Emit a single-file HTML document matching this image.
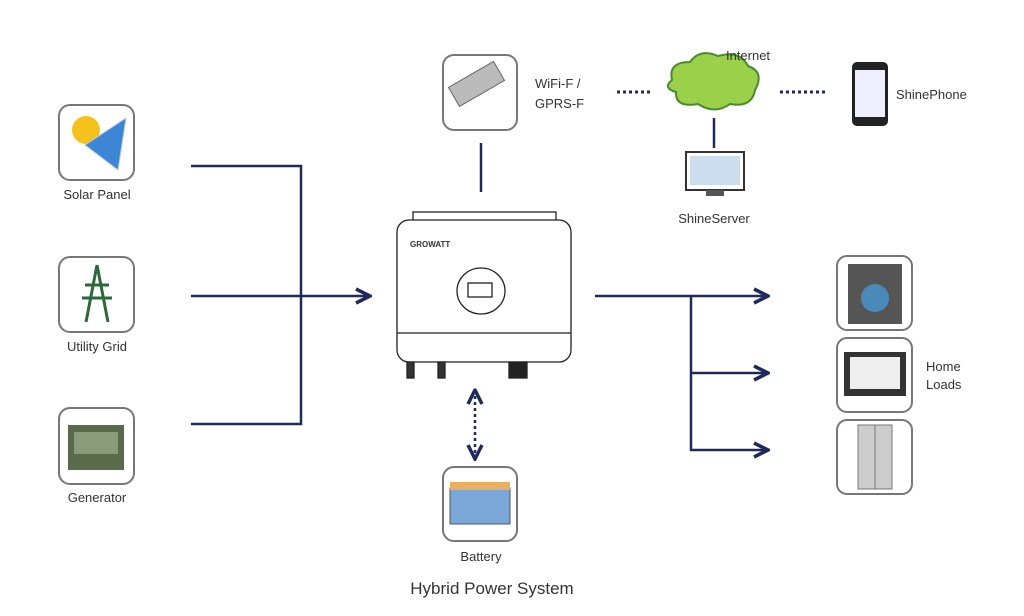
<!DOCTYPE html>
<html><head><meta charset="utf-8"><style>body{margin:0;background:#fff}svg{display:block}text{font-family:"Liberation Sans",sans-serif;fill:#333}</style></head><body>
<svg width="1024" height="616" viewBox="0 0 1024 616" xmlns="http://www.w3.org/2000/svg">
<defs><marker id="a" viewBox="0 0 10 10" refX="9" refY="5" markerWidth="7" markerHeight="7" orient="auto-start-reverse"><path d="M1 1L9 5L1 9" fill="none" stroke="#1f2a5a" stroke-width="2"/></marker></defs>
<g fill="#fff" stroke="#777" stroke-width="2">
<rect x="59" y="105" width="75" height="75" rx="11"/>
<rect x="59" y="257" width="75" height="75" rx="11"/>
<rect x="59" y="408" width="75" height="76" rx="11"/>
<rect x="443" y="55" width="74" height="75" rx="11"/>
<rect x="443" y="467" width="74" height="74" rx="11"/>
<rect x="837" y="256" width="75" height="74" rx="10"/>
<rect x="837" y="338" width="75" height="74" rx="10"/>
<rect x="837" y="420" width="75" height="74" rx="10"/>
</g>
<!-- icons -->
<circle cx="86" cy="130" r="14" fill="#f5c21b"/>
<polygon points="85,145 126,118 118,170" fill="#3d86d6" stroke="#bcd" />
<path d="M97 265 L86 322 M97 265 L108 322 M85 285 H109 M82 298 H112" stroke="#2a6a3a" stroke-width="3" fill="none"/>
<rect x="68" y="425" width="56" height="45" fill="#5a6a4a"/><rect x="74" y="432" width="44" height="22" fill="#8a9a7a"/>
<rect x="454" y="72" width="52" height="22" transform="rotate(-30 480 90)" fill="#bbb" stroke="#666"/>
<rect x="450" y="488" width="60" height="36" fill="#7aa7d8" stroke="#555"/><rect x="450" y="482" width="60" height="8" fill="#e8b060"/>
<rect x="848" y="264" width="54" height="60" fill="#555"/><circle cx="875" cy="298" r="14" fill="#4a8ab8"/>
<rect x="844" y="352" width="62" height="44" fill="#333"/><rect x="850" y="357" width="50" height="32" fill="#eee"/>
<rect x="858" y="425" width="34" height="64" fill="#ccc" stroke="#777"/><line x1="875" y1="425" x2="875" y2="489" stroke="#777"/>
<rect x="852" y="62" width="36" height="64" rx="5" fill="#222"/><rect x="855" y="70" width="30" height="47" fill="#eef"/>
<path d="M672 80 Q668 62 690 62 Q700 48 718 56 Q740 50 748 66 Q765 72 755 90 Q752 108 730 104 Q715 115 698 104 Q675 108 676 92 Q662 88 672 80Z" fill="#9ad04a" stroke="#4a8a2a" stroke-width="2"/>
<rect x="686" y="152" width="58" height="38" fill="#fff" stroke="#333" stroke-width="2"/><rect x="690" y="156" width="50" height="29" fill="#cde"/><rect x="706" y="190" width="18" height="6" fill="#555"/>
<!-- inverter -->
<g fill="#fff" stroke="#222" stroke-width="1.3">
<rect x="413" y="212" width="143" height="10"/>
<rect x="397" y="220" width="174" height="142" rx="12"/>
<line x1="397" y1="333" x2="571" y2="333"/>
<ellipse cx="481" cy="291" rx="24" ry="23"/>
<rect x="468" y="283" width="24" height="14"/>
<rect x="407" y="362" width="7" height="16" fill="#333"/><rect x="438" y="362" width="7" height="16" fill="#333"/>
<rect x="509" y="362" width="18" height="16" fill="#222"/>
</g>
<text x="410" y="247" font-size="8" font-weight="bold" fill="#555">GROWATT</text>
<!-- connectors -->
<g stroke="#1f2a5a" stroke-width="2.5" fill="none">
<path d="M191 166H301V424H191"/><path d="M191 296H370" marker-end="url(#a)"/>
<path d="M595 296H768" marker-end="url(#a)"/>
<path d="M691 296V450H768" marker-end="url(#a)"/><path d="M691 373H768" marker-end="url(#a)"/>
<path d="M481 143V192"/><path d="M714 118V148"/>
<path d="M617 92H650M780 92H828" stroke-dasharray="3 3" stroke-width="3"/>
<path d="M475 390V459" stroke-dasharray="3 3" marker-start="url(#a)" marker-end="url(#a)"/>
</g>
<g font-size="13" text-anchor="middle">
<text x="97" y="199">Solar Panel</text><text x="97" y="351">Utility Grid</text><text x="97" y="502">Generator</text>
<text x="481" y="561">Battery</text><text x="714" y="223">ShineServer</text><text x="748" y="60">Internet</text>
</g>
<g font-size="13"><text x="535" y="88">WiFi-F /</text><text x="535" y="108">GPRS-F</text><text x="896" y="99">ShinePhone</text><text x="926" y="371">Home</text><text x="926" y="389">Loads</text></g>
<text x="492" y="594" font-size="17" text-anchor="middle" fill="#111">Hybrid Power System</text>
</svg></body></html>
